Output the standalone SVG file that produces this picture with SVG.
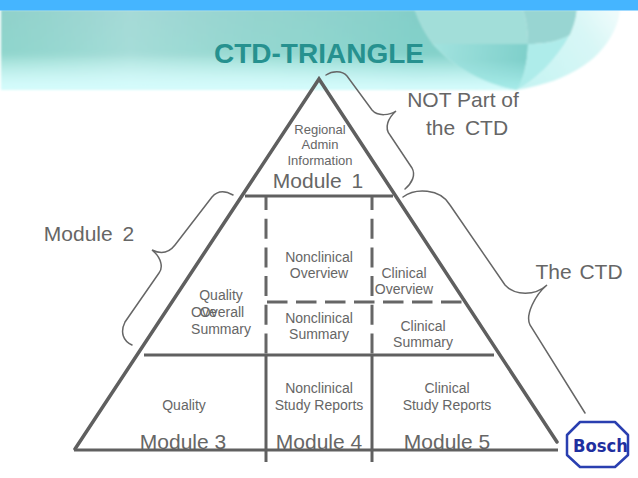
<svg xmlns="http://www.w3.org/2000/svg" width="638" height="478" viewBox="0 0 638 478">
<defs>
<linearGradient id="bandV" gradientUnits="userSpaceOnUse" x1="0" y1="11" x2="0" y2="90"><stop offset="0" stop-color="#96d3ce"/><stop offset="0.5" stop-color="#95d8d0"/><stop offset="0.72" stop-color="#b0e8e0"/><stop offset="0.95" stop-color="#d4fbfb"/><stop offset="1" stop-color="#e2fdfd"/></linearGradient>
<linearGradient id="bandH" gradientUnits="userSpaceOnUse" x1="0" y1="0" x2="520" y2="0"><stop offset="0" stop-color="#7ccbc0" stop-opacity="0.25"/><stop offset="0.25" stop-color="#c4e6e8" stop-opacity="0.35"/><stop offset="0.5" stop-color="#8fd5cf" stop-opacity="0.25"/><stop offset="0.8" stop-color="#70c9c3" stop-opacity="0.5"/><stop offset="1" stop-color="#70c9c3" stop-opacity="0.4"/></linearGradient>
<linearGradient id="fade" gradientUnits="userSpaceOnUse" x1="0" y1="55" x2="0" y2="90"><stop offset="0" stop-color="#d4fbfb" stop-opacity="0"/><stop offset="0.9" stop-color="#d4fbfb" stop-opacity="0.95"/></linearGradient>
<linearGradient id="lens" gradientUnits="userSpaceOnUse" x1="433" y1="44" x2="528" y2="60"><stop offset="0" stop-color="#a2e3df"/><stop offset="1" stop-color="#7ecfca"/></linearGradient>
<linearGradient id="lensV" gradientUnits="userSpaceOnUse" x1="0" y1="60" x2="0" y2="90"><stop offset="0" stop-color="#a8ecea" stop-opacity="0"/><stop offset="1" stop-color="#a8ecea" stop-opacity="1"/></linearGradient>
<linearGradient id="far" gradientUnits="userSpaceOnUse" x1="520" y1="90" x2="620" y2="20"><stop offset="0" stop-color="#c4f3f2"/><stop offset="0.7" stop-color="#d8f7f6"/><stop offset="1" stop-color="#eefbfb"/></linearGradient>
<filter id="soft" x="-5%" y="-5%" width="110%" height="110%"><feGaussianBlur stdDeviation="0.5"/></filter>
<filter id="softer" x="-2%" y="-5%" width="104%" height="110%"><feGaussianBlur stdDeviation="0.9"/></filter>
<style>
.t{font-family:"Liberation Sans",Arial,sans-serif;fill:#666;text-anchor:middle}
.s{font-size:14px}
.r{font-size:13px}
.m{font-size:21px}
.b{font-size:21px}
.tri{fill:none;stroke:#5f5f5f;stroke-width:3.5;stroke-linecap:round}
.line{fill:none;stroke:#616161;stroke-width:3}
.dash{fill:none;stroke:#666;stroke-width:3}
.brace{fill:none;stroke:#666;stroke-width:1.5;stroke-linecap:round}
</style>
</defs>
<rect width="638" height="478" fill="#fff"/>
<g id="background">
<g filter="url(#softer)">
<path d="M1,10 H415 C419,22 425,33 433,44 C455,70 490,85 517,90 H1 Z" fill="url(#bandV)"/>
<path d="M1,10 H415 C419,22 425,33 433,44 C455,70 490,85 517,90 H1 Z" fill="url(#bandH)"/>
<path d="M1,55 H451 C470,72 495,86 517,90 H1 Z" fill="url(#fade)"/>
<path d="M415,10 H523 C527,22 528,33 528,44 H433 C425,33 419,22 415,10 Z" fill="#a2ded9"/>
<path d="M433,44 H528 C528,60 524,78 517,90 C490,85 455,70 433,44 Z" fill="url(#lens)"/>
<path d="M433,44 H528 C528,60 524,78 517,90 C490,85 455,70 433,44 Z" fill="url(#lensV)"/>
<path d="M523,10 H577 C576,20 573,28 570,35 C558,42 543,44 528,44 C528,33 527,22 523,10 Z" fill="#98d5d2"/>
<path d="M570,35 C558,42 543,44 528,44 C528,60 524,78 517,90 C535,80 555,62 570,35 Z" fill="#aeecea"/>
<path d="M577,10 H620 C617,35 600,55 583,66 C565,78 545,85 517,90 C535,80 555,62 570,35 C573,28 576,20 577,10 Z" fill="url(#far)"/>
</g>
<rect x="0" y="0" width="638" height="10.5" fill="#45b5ff"/>
</g>
<text id="title" class="t" x="319" y="63" style="font-size:28px;font-weight:bold;fill:#26918f">CTD-TRIANGLE</text>
<g id="module1">
<text class="t r" x="320" y="134">Regional</text>
<text class="t r" x="320" y="149">Admin</text>
<text class="t r" x="320" y="165">Information</text>
<text class="t m" x="318" y="188" style="word-spacing:4px">Module 1</text>
</g>
<g id="not-part"><text class="t b" x="463" y="107">NOT Part of</text><text class="t b" x="467" y="135" style="word-spacing:4px">the CTD</text></g>
<g id="the-ctd"><text class="t b" x="579" y="279" style="word-spacing:2px">The CTD</text></g>
<g id="module2"><text class="t m" x="89" y="241" style="word-spacing:4px">Module 2</text></g>
<g id="quality-overall">
<text class="t s" x="221" y="300">Quality</text>
<text class="t s" x="191" y="317" style="text-anchor:start">Ove</text>
<text class="t s" x="222" y="317">Overall</text>
<text class="t s" x="221" y="334">Summary</text>
</g>
<g id="nonclinical-overview"><text class="t s" x="319" y="262">Nonclinical</text><text class="t s" x="319" y="278">Overview</text></g>
<g id="clinical-overview"><text class="t s" x="404" y="278">Clinical</text><text class="t s" x="404" y="294">Overview</text></g>
<g id="nonclinical-summary"><text class="t s" x="319" y="323">Nonclinical</text><text class="t s" x="319" y="339">Summary</text></g>
<g id="clinical-summary"><text class="t s" x="423" y="331">Clinical</text><text class="t s" x="423" y="347">Summary</text></g>
<g id="quality"><text class="t s" x="184" y="410">Quality</text></g>
<g id="nonclinical-reports"><text class="t s" x="319" y="393">Nonclinical</text><text class="t s" x="319" y="410">Study Reports</text></g>
<g id="clinical-reports"><text class="t s" x="447" y="393">Clinical</text><text class="t s" x="447" y="410">Study Reports</text></g>
<g id="module3"><text class="t m" x="183" y="449">Module 3</text></g>
<g id="module4"><text class="t m" x="319" y="449">Module 4</text></g>
<g id="module5"><text class="t m" x="447" y="449">Module 5</text></g>
<g id="connectors" filter="url(#soft)">
<path class="tri" d="M557,442 L319,79 L75,449"/>
<path class="line" d="M74,450 H558"/>
<path class="line" d="M245,196 H393"/>
<path class="line" d="M144,355 H494"/>
<path class="dash" d="M266,197 V355" stroke-dasharray="20 8.700" stroke-dashoffset="7"/>
<path class="dash" d="M372,197 V355" stroke-dasharray="20 8.700" stroke-dashoffset="7"/>
<path class="dash" d="M267,302 H463" stroke-dasharray="20.500 8.500"/>
<path class="line" d="M266,355 V462"/>
<path class="line" d="M372,355 V462"/>
<path class="brace" d="M326,75 C332,71 342,70 347,76 L372,110 C378,117 390,115 396,111 C388,118 384,128 390,135 L412,168 C416,175 412,183 405,189"/>
<path class="brace" d="M403,197 C415,188 440,188 450,205 L505,285 C515,296 535,296 547,285 C535,295 525,315 530,325 L585,413"/>
<path class="brace" d="M233,195 C226,191 218,190 212,197 L175,245 C168,254 160,254 152,250 C162,258 163,268 159,273 L125,322 C120,332 123,341 132,345"/>
</g>
<g id="logo">
<path d="M580,422 H615 L628,435 V455 L615,467 H580 L567,455 V435 Z" fill="#fff" stroke="#2a3fb0" stroke-width="2.5" stroke-linejoin="round"/>
<text x="573" y="452" textLength="55" lengthAdjust="spacingAndGlyphs" style="font-family:'DejaVu Sans','Liberation Sans',sans-serif;font-size:18px;font-weight:bold;fill:#1f2f9f">Bosch</text>
</g>
</svg>
